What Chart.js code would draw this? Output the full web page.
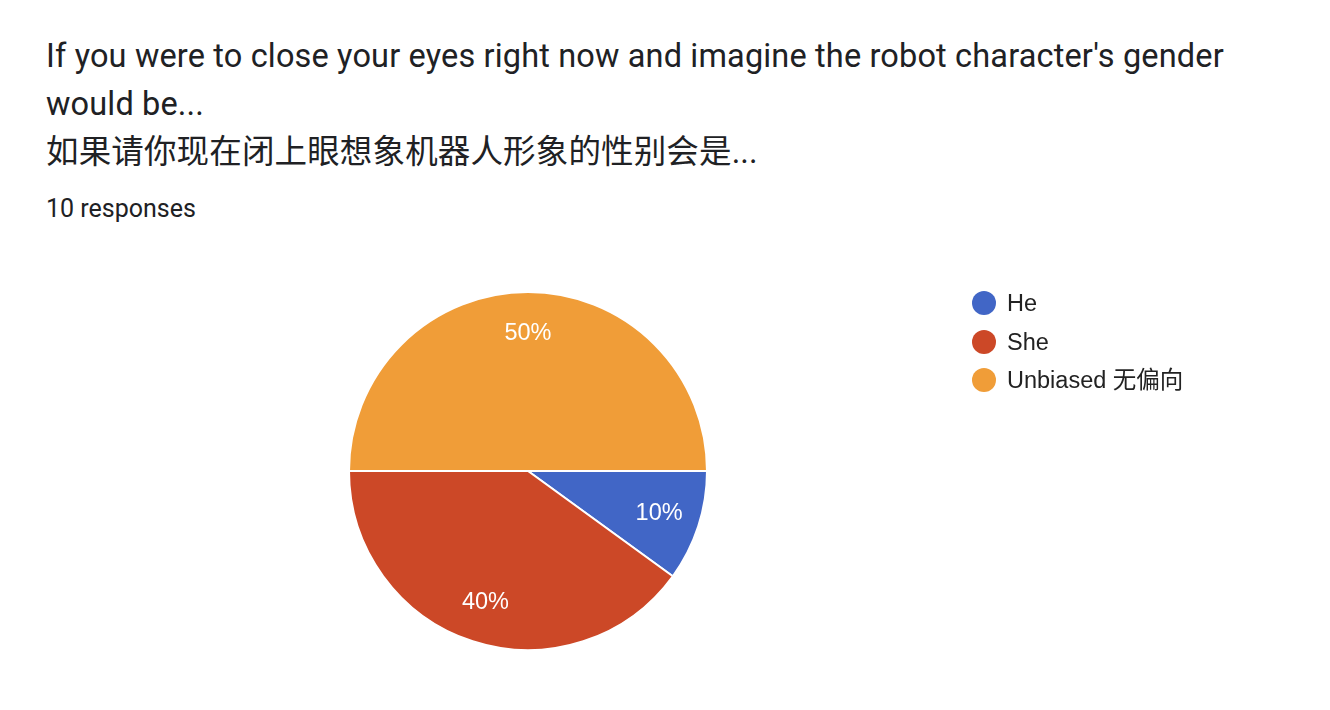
<!DOCTYPE html>
<html>
<head>
<meta charset="utf-8">
<script src="https://cdn.jsdelivr.net/npm/chart.js@4"></script>
<style>
  html, body { margin: 0; padding: 0; background: #fff; }
  body { width: 1330px; height: 710px; position: relative; overflow: hidden; }
  #title { position: absolute; left: 46px; top: 32px; font-family: Roboto, "Noto Sans CJK SC", sans-serif; font-size: 32.5px; line-height: 48px; letter-spacing: 0.15px; color: #202124; white-space: nowrap; }
  #sub { position: absolute; left: 46px; top: 194px; font-family: Roboto, sans-serif; font-size: 25px; line-height: 30px; color: #202124; }
  #chart { position: absolute; left: 0; top: 0; }
  #legend { position: absolute; left: 972px; top: 291px; font-family: "Liberation Sans", Arial, "Noto Sans CJK SC", sans-serif; font-size: 23.5px; color: #222; }
  .item { height: 38.5px; display: flex; align-items: flex-start; }
  .dot { width: 24px; height: 24px; border-radius: 50%; margin-right: 11px; flex: none; }
  .lbl { line-height: 24px; }
</style>
</head>
<body>
<div id="title"></div>
<div id="sub"></div>
<canvas id="chart" width="1330" height="710"></canvas>
<div id="legend"></div>
<script>
const titleLines = ["If you were to close your eyes right now and imagine the robot character's gender", "would be...", "如果请你现在闭上眼想象机器人形象的性别会是..."];
const responsesText = "10 responses";
const categories = ["He", "She", "Unbiased 无偏向"];
const values = [1, 4, 5];
const colors = ["#4166c6", "#cc4827", "#f09d38"];

document.getElementById('title').innerHTML = titleLines.map(s => s.replace(/&/g,'&amp;').replace(/</g,'&lt;')).join('<br>');
document.getElementById('sub').textContent = responsesText;

const legend = document.getElementById('legend');
categories.forEach((c, i) => {
  const it = document.createElement('div'); it.className = 'item';
  const d = document.createElement('div'); d.className = 'dot'; d.style.background = colors[i];
  const l = document.createElement('div'); l.className = 'lbl'; l.textContent = c;
  it.appendChild(d); it.appendChild(l); legend.appendChild(it);
});

const pctLabels = {
  id: 'pctLabels',
  afterDatasetsDraw(chart) {
    const ctx = chart.ctx;
    const meta = chart.getDatasetMeta(0);
    const total = values.reduce((a, b) => a + b, 0);
    ctx.save();
    ctx.fillStyle = '#ffffff';
    ctx.font = '23.5px "Liberation Sans", Arial, sans-serif';
    ctx.textAlign = 'center';
    ctx.textBaseline = 'middle';
    meta.data.forEach((arc, i) => {
      const p = arc.getProps(['x', 'y', 'startAngle', 'endAngle', 'outerRadius'], true);
      const mid = (p.startAngle + p.endAngle) / 2;
      const r = p.outerRadius * 0.77;
      const pct = Math.round(values[i] / total * 100) + '%';
      ctx.fillText(pct, p.x + Math.cos(mid) * r, p.y + Math.sin(mid) * r);
    });
    ctx.restore();
  }
};

new Chart(document.getElementById('chart'), {
  type: 'pie',
  data: {
    labels: categories,
    datasets: [{ data: values, backgroundColor: colors, borderColor: '#ffffff', borderWidth: 2 }]
  },
  options: {
    responsive: false,
    animation: false,
    rotation: 90,
    layout: { padding: { left: 348, right: 622, top: 291, bottom: 59 } },
    plugins: { legend: { display: false }, tooltip: { enabled: false } }
  },
  plugins: [pctLabels]
});
</script>
</body>
</html>
